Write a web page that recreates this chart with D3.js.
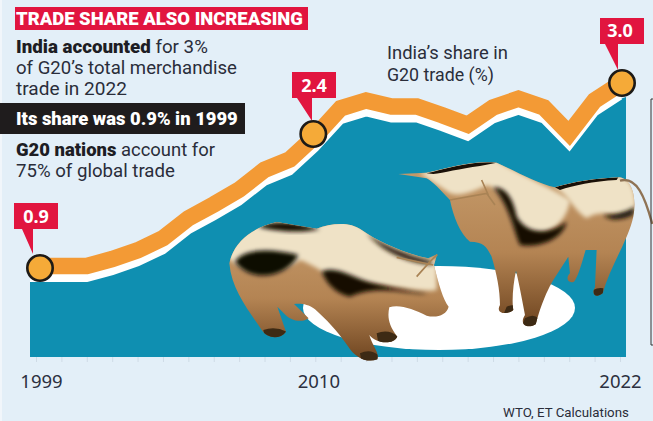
<!DOCTYPE html>
<html><head><meta charset="utf-8">
<script src="https://cdn.jsdelivr.net/npm/d3@7/dist/d3.min.js"></script>
<style>
html,body{margin:0;padding:0;background:#e3eff8;overflow:hidden}
svg{display:block}
text{font-family:Roboto,"Noto Sans",sans-serif}
</style></head><body>
<svg id="c" width="653" height="421"></svg>
<script>
const years=d3.range(1999,2023);
const share=[0.9,0.9,0.9,0.98,1.08,1.22,1.45,1.61,1.78,2.01,2.13,2.4,2.72,2.81,2.74,2.74,2.64,2.53,2.73,2.83,2.73,2.43,2.81,3.0];
const labelYears=[1999,2010,2022];
const callouts=[{year:1999,label:"0.9"},{year:2010,label:"2.4"},{year:2022,label:"3.0"}];
const titleText="TRADE SHARE ALSO INCREASING";
const source="WTO, ET Calculations";

const svg=d3.select("#c");
svg.append("rect").attr("width",2).attr("height",421).attr("fill","#f1f6fb");
const x=d3.scaleLinear().domain([1999,2022]).range([36,620]);
const y=d3.scaleLinear().domain([0.9,3.0]).range([266,84]);
const pts=years.map((yr,i)=>({x:x(yr),y:y(share[i])}));
const first=pts[0],last=pts[pts.length-1];

const aPts=[{x:30,y:first.y},...pts,{x:626,y:last.y-2}];
svg.append("path").attr("fill","#0f8fb1")
  .attr("d",d3.area().x(d=>d.x).y0(357-15).y1(d=>d.y).curve(d3.curveLinear)(aPts))
  .attr("transform","translate(0,15)");
const lg=d3.line().x(d=>d.x).y(d=>d.y);
svg.append("path").attr("d",lg([{x:30,y:first.y},...pts])).attr("fill","none").attr("stroke","#fff").attr("stroke-width",8)
  .attr("stroke-linejoin","miter").attr("transform","translate(0,12)");
svg.append("path").attr("d",lg(pts)).attr("fill","none").attr("stroke","#f39a35").attr("stroke-width",16.5)
  .attr("stroke-linejoin","miter");

const ax=svg.append("g").attr("transform","translate(0,357)")
  .call(d3.axisBottom(x).tickValues(years).tickSize(5).tickSizeOuter(0)
    .tickFormat(d=>labelYears.includes(d)?String(d):""));
ax.select(".domain").remove();
ax.selectAll(".tick line").attr("stroke","#cfdbe6");
ax.selectAll(".tick text").attr("font-size",18.5).attr("fill","#2c3040").attr("y",18)
  .attr("dy",".71em").style('font-family','"Noto Sans",sans-serif');
ax.selectAll(".tick").filter(d=>d===1999).select("text").attr("dx",5);
ax.selectAll(".tick").filter(d=>d===2010).select("text").attr("dx",3);

svg.append("ellipse").attr("cx",439).attr("cy",308).attr("rx",136).attr("ry",42).attr("fill","#fff");
const defs=svg.append("defs");
const mk=(id,stops,x2,y2)=>{const g=defs.append("linearGradient").attr("id",id).attr("x1",0).attr("y1",0).attr("x2",x2).attr("y2",y2);
  stops.forEach(s=>g.append("stop").attr("offset",s[0]).attr("stop-color",s[1]));};
mk("gold",[[0,"#c69c6c"],[.55,"#b48453"],[1,"#6f4520"]],0,1);
defs.append("filter").attr("id","b2").attr("x","-30%").attr("y","-30%").attr("width","160%").attr("height","160%").append("feGaussianBlur").attr("stdDeviation",6);
const ill=svg.append("g").attr("transform","translate(220,150) scale(0.3333)");
const bearD="M28,340 C40,280 90,235 170,216 L290,236 C330,222 385,212 425,240 C470,272 550,310 625,325 L652,312 L642,345 C655,400 670,450 686,470 C680,495 650,505 620,497 C580,478 540,462 508,472 C502,500 505,525 532,560 C520,585 470,582 448,555 C458,590 478,605 472,628 C440,640 405,622 385,590 C350,540 320,510 285,478 C262,460 240,460 222,462 L266,505 C245,520 210,512 190,488 L172,470 L198,545 C180,570 140,565 125,540 C85,480 35,420 28,340Z";
const bullD="M535,72 L620,68 C680,55 760,30 830,38 C880,60 950,100 1005,112 C1060,95 1130,85 1200,82 C1240,90 1250,150 1240,200 C1225,270 1170,350 1148,430 C1130,445 1112,435 1125,412 L1130,300 L1097,300 C1085,340 1075,380 1062,395 C1045,402 1035,385 1050,370 L1045,320 L1000,390 C970,440 950,510 948,522 C925,538 895,525 915,495 C905,440 895,390 888,362 C880,400 875,450 880,480 C860,497 825,490 840,465 C840,420 830,370 815,320 C800,290 790,275 750,275 C720,250 700,200 690,150 C660,120 640,95 620,85Z";
defs.append("clipPath").attr("id","cb").append("path").attr("d",bearD);
defs.append("clipPath").attr("id","cu").append("path").attr("d",bullD);
ill.append("path").attr("d",bearD).attr("fill","url(#gold)");
const bg=ill.append("g").attr("clip-path","url(#cb)");
bg.append("path").attr("d","M20,320 C60,220 110,205 170,206 L290,226 C340,210 390,202 425,230 C470,262 560,310 650,330 L650,420 C600,430 500,400 400,400 C340,400 300,350 240,330 C180,370 90,390 20,320Z").attr("fill","#efe2c6").attr("filter","url(#b2)");
bg.append("path").attr("d","M45,335 C70,295 150,295 235,315 C200,385 90,400 45,335Z").attr("fill","#100a04").attr("filter","url(#b2)");
bg.append("path").attr("d","M305,365 C350,345 400,385 460,400 C520,415 570,425 625,432 C570,435 480,400 390,440 C345,430 320,400 305,365Z").attr("fill","#170e05").attr("filter","url(#b2)");
bg.append("path").attr("d","M120,225 C190,205 260,225 300,238 C240,250 170,245 120,232Z").attr("fill","#170e05").attr("filter","url(#b2)");
bg.append("path").attr("d","M440,250 C490,285 560,315 630,332 L640,345 C570,340 490,310 440,250Z").attr("fill","#2a1a0a").attr("filter","url(#b2)");
bg.append("path").attr("d","M130,540 q35,-12 70,5 v25 h-65Z M420,610 q30,-15 55,5 v20 h-50Z M470,550 q35,-15 65,10 v20 h-60Z").attr("fill","#3d2a14");
ill.append("path").attr("d",bullD).attr("fill","url(#gold)");
const ug=ill.append("g").attr("clip-path","url(#cu)");
ug.append("path").attr("d","M600,70 C680,50 770,25 830,32 C900,75 980,105 1050,150 C1040,230 960,280 890,230 C870,170 860,125 800,105 C760,125 720,140 690,130 C660,110 630,90 600,70Z").attr("fill","#efe2c6").attr("filter","url(#b2)");
ug.append("path").attr("d","M1005,110 C1060,90 1140,80 1205,78 C1245,95 1250,150 1245,180 C1190,215 1150,170 1100,205 C1060,180 1050,140 1005,110Z").attr("fill","#efe2c6").attr("filter","url(#b2)");
ug.append("path").attr("d","M820,112 C860,110 880,150 890,200 C920,250 980,260 1040,215 C1030,265 960,295 900,285 C880,240 870,170 820,112Z").attr("fill","#140c05").attr("filter","url(#b2)");
ug.append("path").attr("d","M1150,195 C1190,195 1220,185 1245,170 L1240,195 C1210,210 1170,215 1150,195Z").attr("fill","#1f1408").attr("filter","url(#b2)");
ug.append("path").attr("d","M620,70 C680,55 760,30 830,38 L780,48 C720,55 670,70 640,72Z").attr("fill","#1a1007");
ug.append("path").attr("d","M1005,112 C1060,95 1130,85 1195,82 L1190,90 C1120,94 1060,106 1020,120Z").attr("fill","#1a1007");
ug.append("path").attr("d","M860,470 q20,-8 30,0 v25 h-40Z M915,505 q25,-15 40,0 v25 h-50Z M1120,420 q15,-8 30,-5 v25 h-30Z").attr("fill","#3d2a14");
ill.append("path").attr("d","M1200,92 C1250,78 1275,140 1297,222").attr("fill","none").attr("stroke","#8f7355").attr("stroke-width",7);
ill.append("path").attr("d","M690,150 L800,130 L825,165 M785,90 L805,135").attr("fill","none").attr("stroke","#a98355").attr("stroke-width",5);
ill.append("path").attr("d","M530,322 L640,345 M590,380 L630,335 L652,314").attr("fill","none").attr("stroke","#a98355").attr("stroke-width",5);

const boxes=[
 {w:44,h:26,bx:14,by:203,tipx:33,tipy:254,base:11,dx:4,dy:2,tx:36,ty:223},
 {w:44,h:26,bx:292,by:72,tipx:312,tipy:121,base:15,dx:-2,dy:-2,tx:314,ty:92},
 {w:44,h:26,bx:600,by:18,tipx:618,tipy:70,base:13,dx:2,dy:-1,tx:620,ty:37}];
callouts.forEach((c,i)=>{
  const b=boxes[i],v=share[years.indexOf(c.year)];
  svg.append("path").attr("fill","#e1153f")
   .attr("d",`M${b.bx},${b.by}h${b.w}v${b.h}H${b.tipx}V${b.tipy}L${b.tipx-b.base},${b.by+b.h}H${b.bx}Z`);
  svg.append("text").attr("x",b.tx).attr("y",b.ty).attr("text-anchor","middle").attr("fill","#fff")
    .attr("font-size",18).attr("font-weight",700).style("font-family",'"Noto Sans"').text(c.label);
  svg.append("circle").attr("cx",x(c.year)+b.dx).attr("cy",y(v)+b.dy).attr("r",12.7).attr("fill","#f5aa38").attr("stroke","#1d1a17").attr("stroke-width",2.6);
});

const fit=(t,xx,yy,w)=>{const n=t.node().getComputedTextLength();
  t.attr("x",0).attr("y",0).attr("transform",`translate(${xx},${yy}) scale(${w/n},1)`);};
const para=(xx,yy,w,parts,size=18)=>{const t=svg.append("text").attr("font-size",size).attr("fill","#2a2d3a");
  parts.forEach(p=>t.append("tspan").attr("font-weight",p[1]?900:400).attr("fill",p[1]?"#1d1d24":"#2a2d3a").text(p[0]));
  fit(t,xx,yy,w);};
svg.append("rect").attr("x",15).attr("y",7).attr("width",293).attr("height",23).attr("fill","#e1153f");
fit(svg.append("text").attr("fill","#fff").attr("font-size",18.5).attr("font-weight",900).text(titleText),16,25,287);
para(16,53,192,[["India accounted",1],[" for 3%",0]]);
para(16,74,221,[["of G20’s total merchandise",0]]);
para(16,95,111,[["trade in 2022",0]]);
svg.append("rect").attr("x",0).attr("y",103).attr("width",245).attr("height",31).attr("fill","#1f1c1d");
fit(svg.append("text").attr("fill","#fff").attr("font-size",18).attr("font-weight",900).text("Its share was 0.9% in 1999"),16,125,222);
para(16,156,199,[["G20 nations",1],[" account for",0]]);
para(16,177,159,[["75% of global trade",0]]);
para(387,59,121,[["India’s share in",0]]);
para(387,81,107,[["G20 trade (%)",0]]);
fit(svg.append("text").attr("font-size",13.5).attr("fill","#2a2d3a").text(source),503,417,126);
svg.append("path").attr("d","M653,99 H651 V345 H653").attr("fill","none").attr("stroke","#333").attr("stroke-width",1);
</script></body></html>
